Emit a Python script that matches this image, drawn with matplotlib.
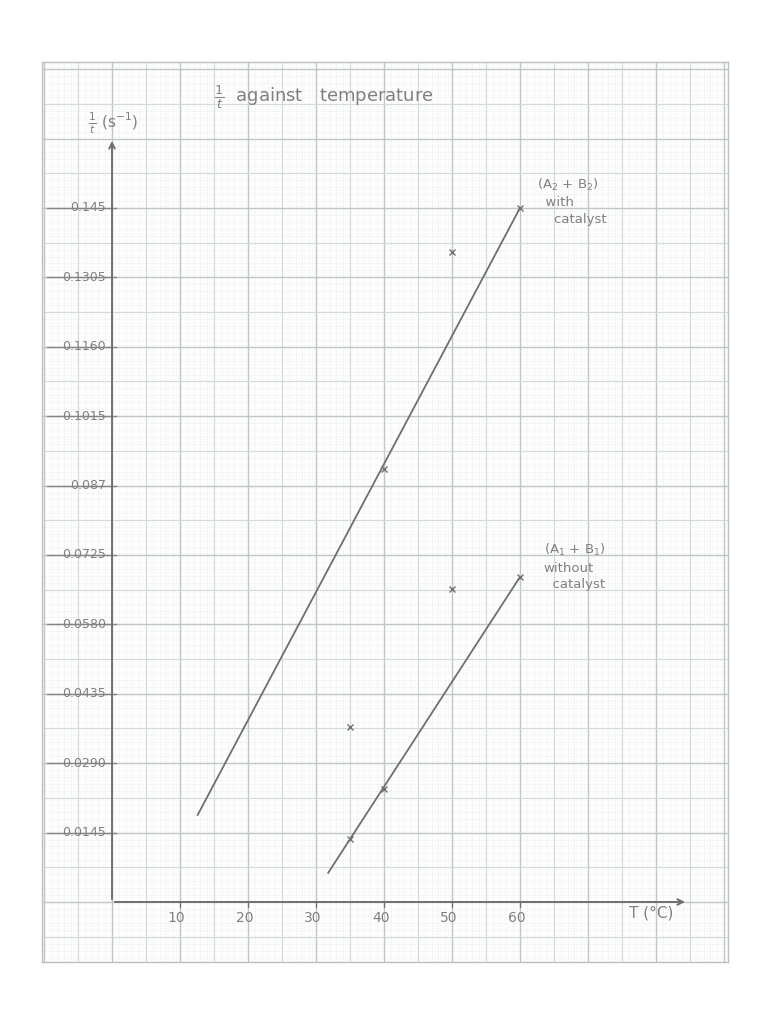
import numpy as np
import matplotlib
matplotlib.use("Agg")
import matplotlib.pyplot as plt

# ---- data ----
temps_with = [35, 40, 50, 60]
inv_t_with = [0.0366, 0.0905, 0.1358, 0.145]
temps_without = [35, 40, 50, 60]
inv_t_without = [0.0132, 0.0236, 0.0654, 0.0679]
# hand-drawn lines of best fit (end points)
fit_with_T = [12.6, 60]
fit_with_y = [0.0182, 0.145]
fit_without_T = [31.8, 60]
fit_without_y = [0.0061, 0.0679]

x_ticks = [10, 20, 30, 40, 50, 60]
x_tick_labels = ["10", "20", "30", "40", "50", "60"]
y_ticks = [0.0145, 0.0290, 0.0435, 0.0580, 0.0725, 0.087, 0.1015, 0.1160, 0.1305, 0.145]
y_tick_labels = ["0.0145", "0.0290", "0.0435", "0.0580", "0.0725", "0.087",
                 "0.1015", "0.1160", "0.1305", "0.145"]

title = r"$\frac{1}{t}$  against   temperature"
ylabel = r"$\frac{1}{t}$ (s$^{-1}$)"
xlabel = "T (°C)"
label_with = "(A$_2$ + B$_2$)\n  with\n    catalyst"
label_without = "(A$_1$ + B$_1$)\nwithout\n  catalyst"

# ---- figure ----
fig = plt.figure(figsize=(7.68, 10.24), dpi=100)
fig.patch.set_facecolor("white")
ax = fig.add_axes([42 / 768, 1 - 962 / 1024, (728 - 42) / 768, 900 / 1024])
ax.set_facecolor("#fcfdfc")

x0, x1 = -10.3, 90.6
y0, y1 = -0.01254, 0.1755
ax.set_xlim(x0, x1)
ax.set_ylim(y0, y1)
for s in ax.spines.values():
    s.set_edgecolor("#b9c3bc")
    s.set_linewidth(1.0)
ax.set_xticks([])
ax.set_yticks([])

grid_col_minor = "#e6ece8"
grid_col_mid = "#d2dbd5"
grid_col_major = "#bfc9c2"
dy = 0.00145
for k in range(-10, 91):
    if k % 10 == 0:
        ax.axvline(k, color=grid_col_major, lw=1.0, zorder=1)
    elif k % 5 == 0:
        ax.axvline(k, color=grid_col_mid, lw=0.8, zorder=1)
    else:
        ax.axvline(k, color=grid_col_minor, lw=0.5, ls=(0, (2, 2)), zorder=0)
for k in range(-9, 122):
    yv = k * dy
    if k % 10 == 0:
        ax.axhline(yv, color=grid_col_major, lw=1.0, zorder=1)
    elif k % 5 == 0:
        ax.axhline(yv, color=grid_col_mid, lw=0.8, zorder=1)
    else:
        ax.axhline(yv, color=grid_col_minor, lw=0.5, ls=(0, (2, 2)), zorder=0)

ink = "#6f6f6f"
txt = "#808080"
# axes arrows
ax.annotate("", xy=(84.7, 0), xytext=(0, 0),
            arrowprops=dict(arrowstyle="->", color=ink, lw=1.4), zorder=3)
ax.annotate("", xy=(0, 0.1596), xytext=(0, 0),
            arrowprops=dict(arrowstyle="->", color=ink, lw=1.4), zorder=3)

# y tick marks and labels
for yv, lab in zip(y_ticks, y_tick_labels):
    ax.plot([-9.5, 0.6], [yv, yv], color="#858585", lw=1.0, zorder=2)
    ax.text(-0.9, yv, lab, ha="right", va="center", fontsize=9, color=txt, zorder=4)
# x tick labels
for xv, lab in zip(x_ticks, x_tick_labels):
    ax.plot([xv, xv], [0, -0.0010], color=ink, lw=0.9, zorder=3)
    ax.text(xv - 0.5, -0.0033, lab, ha="center", va="center", fontsize=10, color=txt, zorder=4)

# fitted lines
ax.plot(fit_with_T, fit_with_y, color=ink, lw=1.3, zorder=3)
ax.plot(fit_without_T, fit_without_y, color=ink, lw=1.3, zorder=3)
# data points
ax.plot(temps_with, inv_t_with, ls="none", marker="x", ms=5, mew=1.0, color=ink, zorder=4)
ax.plot(temps_without, inv_t_without, ls="none", marker="x", ms=5, mew=1.0, color=ink, zorder=4)

# labels
ax.text(15.0, 0.1682, title, ha="left", va="center", fontsize=13, color=txt)
ax.text(-3.5, 0.1628, ylabel, ha="left", va="center", fontsize=11, color=txt)
ax.text(76.0, -0.0023, xlabel, ha="left", va="center", fontsize=11, color=txt)
ax.text(62.5, 0.1515, label_with, ha="left", va="top", fontsize=9.5, color=txt, linespacing=1.35)
ax.text(63.5, 0.0752, label_without, ha="left", va="top", fontsize=9.5, color=txt, linespacing=1.35)

fig.savefig("out.png", dpi=100, facecolor="white")
